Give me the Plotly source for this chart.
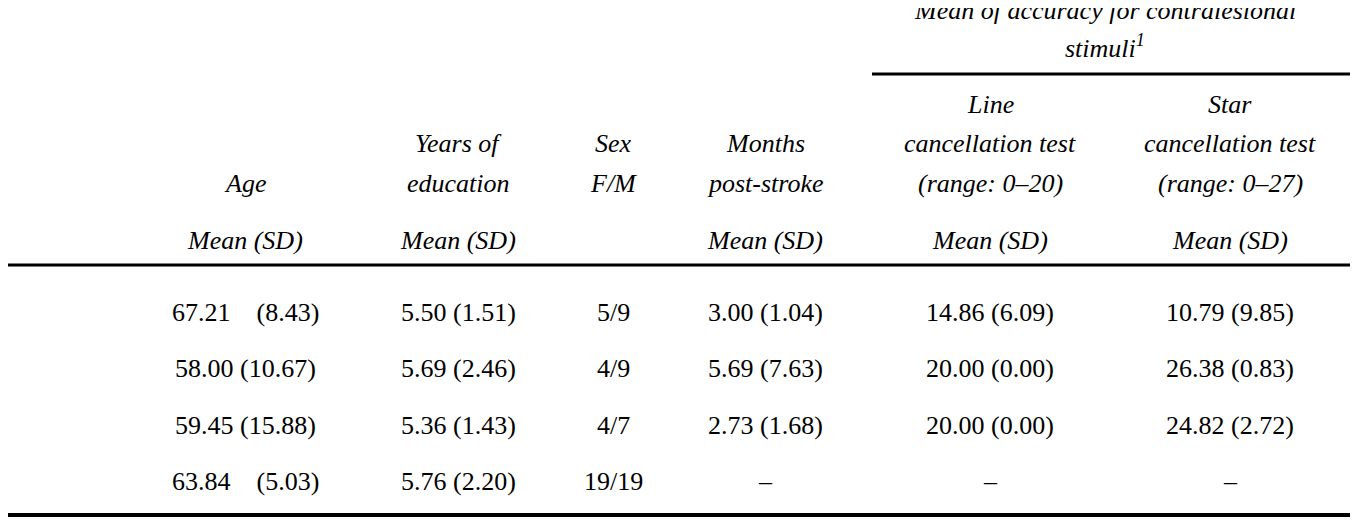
import plotly.graph_objects as go

groups = ["RN+", "RN\u2212", "LN\u2212", "Controls"]
age = ["67.21\u00a0\u00a0\u00a0\u00a0(8.43)", "58.00 (10.67)", "59.45 (15.88)", "63.84\u00a0\u00a0\u00a0\u00a0(5.03)"]
education = ["5.50 (1.51)", "5.69 (2.46)", "5.36 (1.43)", "5.76 (2.20)"]
sex = ["5/9", "4/9", "4/7", "19/19"]
months = ["3.00 (1.04)", "5.69 (7.63)", "2.73 (1.68)", "\u2013"]
line_test = ["14.86 (6.09)", "20.00 (0.00)", "20.00 (0.00)", "\u2013"]
star_test = ["10.79 (9.85)", "26.38 (0.83)", "24.82 (2.72)", "\u2013"]

columns = [age, education, sex, months, line_test, star_test]
col_x = [245, 458, 613, 765, 990, 1230]
row_y = [312, 368, 425, 481]

FONT = dict(family="Liberation Serif, DejaVu Serif, serif", size=26, color="black")

fig = go.Figure()
ann = []


def txt(x, y, s, italic=False, anchor="center"):
    if italic:
        s = "<i>" + s + "</i>"
    ann.append(dict(x=x, y=y, text=s, showarrow=False, xanchor=anchor,
                    yanchor="middle", font=FONT))


# header
txt(1105, 10, "Mean of accuracy for contralesional", True)
txt(1105, 46, "stimuli<sup>1</sup>", True)
txt(0, 183, "Group", True, "left")
txt(245, 183, "Age", True)
txt(458, 143, "Years of", True)
txt(458, 183, "education", True)
txt(613, 143, "Sex", True)
txt(613, 183, "F/M", True)
txt(765, 143, "Months", True)
txt(765, 183, "post-stroke", True)
for cx, rng in [(990, "0\u201320"), (1230, "0\u201327")]:
    txt(cx, 104, "Line" if cx == 990 else "Star", True)
    txt(cx, 143, "cancellation test", True)
    txt(cx, 183, "(range: " + rng + ")", True)
for cx in [245, 458, 765, 990, 1230]:
    txt(cx, 240, "Mean (SD)", True)

# body
for i, y in enumerate(row_y):
    txt(0, y, groups[i], anchor="left")
    for cx, col in zip(col_x, columns):
        txt(cx, y, col[i])

fig.add_shape(type="line", x0=872, x1=1350, y0=74, y1=74, line=dict(color="black", width=3))
fig.add_shape(type="line", x0=0, x1=1350, y0=265, y1=265, line=dict(color="black", width=3))
fig.add_shape(type="line", x0=0, x1=1350, y0=515, y1=515, line=dict(color="black", width=4))

# page body has an 8px margin, so offset the ranges to line up with the window
fig.update_layout(
    width=1359, height=520, margin=dict(l=0, r=0, t=0, b=0),
    paper_bgcolor="white", plot_bgcolor="white", annotations=ann,
    xaxis=dict(range=[8, 1367], visible=False, fixedrange=True),
    yaxis=dict(range=[528, 8], visible=False, fixedrange=True),
    showlegend=False,
)
fig.write_html("out.html")
